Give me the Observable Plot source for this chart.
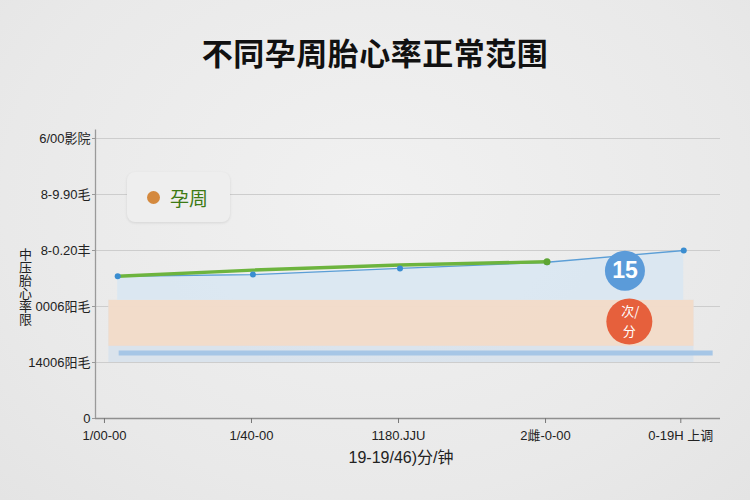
<!DOCTYPE html>
<html><head><meta charset="utf-8">
<script src="https://cdn.jsdelivr.net/npm/d3@7"></script>
<script src="https://cdn.jsdelivr.net/npm/@observablehq/plot@0.6"></script>
<style>
html,body{margin:0;padding:0}
body{background:radial-gradient(ellipse at 50% 40%,#f1f1f1 0%,#e9e9e9 70%,#e4e4e4 100%);width:750px;height:500px;overflow:hidden;position:relative;font-family:"Liberation Sans","Noto Sans CJK SC",sans-serif}
#title{height:100px;line-height:104px;text-align:center;font-weight:bold;font-size:31px;font-family:"Noto Sans CJK SC",sans-serif;color:#111;letter-spacing:0.5px}
#ylab{position:absolute;left:18px;top:248px;writing-mode:vertical-rl;text-orientation:upright;font-size:13px;line-height:14px;color:#222;font-family:"Noto Sans CJK SC",sans-serif}
#legend{position:absolute;left:127px;top:172px;width:103px;height:50px;border-radius:8px;background:#eeeeee;box-shadow:0 1px 3px rgba(0,0,0,0.10);display:flex;align-items:center}
#legend .dot{width:13px;height:13px;border-radius:50%;background:#d4893e;margin-left:20px;margin-right:10px}
#legend .txt{font-size:19px;color:#3d7a14;font-family:"Noto Sans CJK SC",sans-serif}
#chart{position:absolute;left:0;top:100px}
</style>
</head><body>
<div id="title">不同孕周胎心率正常范围</div>
<div id="chart"></div>
<div id="ylab">中压胎心率限</div>
<div id="legend"><span class="dot"></span><span class="txt">孕周</span></div>
<script>
// tick positions and labels
const xTicks = [0, 1, 2, 3, 3.92];
const xLabels = ["1/00-00", "1/40-00", "1180.JJU", "2雌-0-00", "0-19H 上调"];
const yTicks = [0, 1, 2, 3, 4, 5];
const yLabels = ["0", "14006阳毛", "0006阳毛", "8-0.20丰", "8-9.90毛", "6/00影院"];
const xTitle = "19-19/46)分/钟";

// blue series
const blueX = [0.09, 1.01, 2.01, 3.01, 3.94];
const blueY = [2.54, 2.57, 2.68, 2.79, 3.0];
// green series
const greenX = [0.09, 1.01, 2.01, 3.01];
const greenY = [2.54, 2.65, 2.74, 2.80];

// normal range bands
const bandX = [0.03, 4.01];
const peachBand = [1.29, 2.11];
const lowerBand = [1.0, 1.29];
const baselineX = [0.1, 4.14];
const baselineY = [1.17];

// annotation badges
const badgeX = [3.54, 3.57];
const badgeY = [2.64, 1.73];
const badgeText = ["15", "次/", "分"];

const blue = blueX.map((x, i) => ({x, y: blueY[i]}));
const green = greenX.map((x, i) => ({x, y: greenY[i]}));
const badgeA = [{x: badgeX[0], y: badgeY[0]}];
const badgeB = [{x: badgeX[1], y: badgeY[1]}];

const chart = Plot.plot({
  width: 750,
  height: 390,
  marginTop: 38,
  marginBottom: 72,
  marginLeft: 95,
  marginRight: 30,
  style: {background: "transparent", fontFamily: "'Liberation Sans','Noto Sans CJK SC',sans-serif", fontSize: "13px", color: "#222"},
  x: {domain: [-0.061, 4.19]},
  y: {domain: [0, 5]},
  marks: [
    Plot.gridY(yTicks, {stroke: "#cdcdcd", strokeOpacity: 1}),
    Plot.rect([0], {x1: bandX[0], x2: bandX[1], y1: lowerBand[0], y2: peachBand[1], fill: "#d8e2ec", fillOpacity: 0.9}),
    Plot.rect([0], {x1: bandX[0], x2: bandX[1], y1: peachBand[0], y2: peachBand[1], fill: "#f4dac6", fillOpacity: 0.9}),
    Plot.areaY(blue, {x: "x", y1: peachBand[1], y2: "y", fill: "#d9e7f2", fillOpacity: 0.9}),
    Plot.ruleY(baselineY, {x1: baselineX[0], x2: baselineX[1], stroke: "#a6c6e6", strokeWidth: 5}),
    Plot.line(blue, {x: "x", y: "y", stroke: "#5b9ed6", strokeWidth: 1.3}),
    Plot.line(green, {x: "x", y: "y", stroke: "#6db43e", strokeWidth: 3.4}),
    Plot.dot(blue, {x: "x", y: "y", r: 3, fill: "#3a8dd0"}),
    Plot.dot(green.slice(-1), {x: "x", y: "y", r: 3.5, fill: "#5ea534"}),
    Plot.dot(badgeA, {x: "x", y: "y", r: 20, fill: "#5b9bd9"}),
    Plot.dot(badgeB, {x: "x", y: "y", r: 23, fill: "#e6603c"}),
    Plot.text(badgeA, {x: "x", y: "y", text: () => badgeText[0], fill: "white", fontSize: 23, fontWeight: "bold", fontFamily: "'Liberation Sans',sans-serif"}),
    Plot.text(badgeB, {x: "x", y: "y", text: () => badgeText[1], dy: -10, dx: 1, fill: "white", fontSize: 13, fontFamily: "'Noto Sans CJK SC',sans-serif"}),
    Plot.text(badgeB, {x: "x", y: "y", text: () => badgeText[2], dy: 10, fill: "white", fontSize: 13, fontFamily: "'Noto Sans CJK SC',sans-serif"}),
    Plot.ruleY([0], {stroke: "#8f8f8f", strokeWidth: 1.3}),
    Plot.ruleX([-0.061], {y1: 0, y2: 5.15, stroke: "#9a9a9a", strokeWidth: 1.3}),
    Plot.axisX({ticks: xTicks, tickFormat: (d, i) => xLabels[i], tickSize: 5, tickPadding: 7, stroke: "#777", fill: "#222", label: null, fontSize: 13}),
    Plot.text([xTitle], {frameAnchor: "bottom", dy: 44, fontSize: 16, fill: "#222", dx: -7}),
    Plot.axisY({ticks: yTicks, tickFormat: (d, i) => yLabels[i], tickSize: 3, tickPadding: 2, stroke: "#999", fill: "#222", label: null, fontSize: 13})
  ]
});
document.getElementById("chart").appendChild(chart);
</script>
</body></html>
